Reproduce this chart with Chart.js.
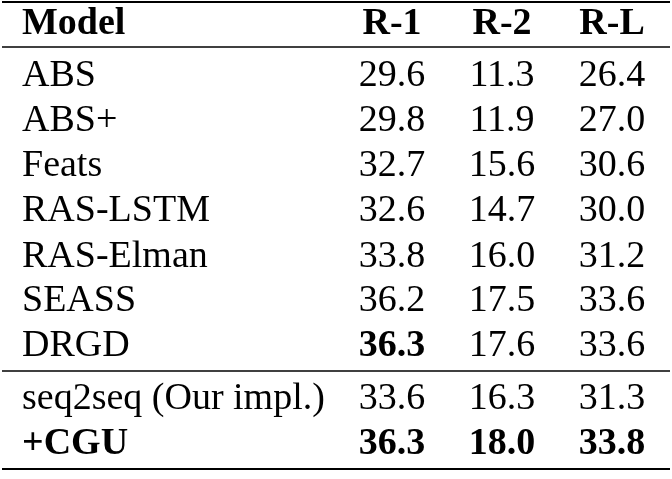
<!DOCTYPE html>
<html><head><meta charset="utf-8">
<script src="https://cdn.jsdelivr.net/npm/chart.js@4"></script>
<style>html,body{margin:0;padding:0;background:#fff}#w{width:672px;height:479px}</style>
</head><body><div id="w"><canvas id="c"></canvas></div>
<script>
const headers = ["Model","R-1","R-2","R-L"];
const models = ["ABS","ABS+","Feats","RAS-LSTM","RAS-Elman","SEASS","DRGD","seq2seq (Our impl.)","+CGU"];
const r1 = ["29.6","29.8","32.7","32.6","33.8","36.2","36.3","33.6","36.3"];
const r2 = ["11.3","11.9","15.6","14.7","16.0","17.5","17.6","16.3","18.0"];
const rl = ["26.4","27.0","30.6","30.0","31.2","33.6","33.6","31.3","33.8"];
const boldCells = [[6,1],[8,0],[8,1],[8,2],[8,3]];
const rowY = [24,76,121,166,211,257,301,346,399,444];
const colX = [22,392,502,612];
const rules = [[2,2.2],[47,1.3],[371,1.3],[469,2.2]];

const tablePlugin = {
  id:'table',
  afterDraw(chart){
    const ctx = chart.ctx, xs = chart.scales.x, ys = chart.scales.y;
    ctx.save();
    ctx.fillStyle='#000'; ctx.strokeStyle='#000';
    rules.forEach(([y,w])=>{ctx.lineWidth=w;ctx.beginPath();
      ctx.moveTo(xs.getPixelForValue(2),ys.getPixelForValue(y));
      ctx.lineTo(xs.getPixelForValue(670),ys.getPixelForValue(y));ctx.stroke();});
    ctx.textBaseline='middle';
    const draw=(t,c,r,bold)=>{
      ctx.font=(bold?'bold ':'')+'38px "Liberation Serif", serif';
      ctx.textAlign=c===0?'left':'center';
      ctx.fillText(t,xs.getPixelForValue(colX[c]),ys.getPixelForValue(rowY[r]));
    };
    headers.forEach((h,c)=>draw(h,c,0,true));
    models.forEach((m,i)=>{
      const vals=[m,r1[i],r2[i],rl[i]];
      vals.forEach((v,c)=>draw(v,c,i+1,boldCells.some(b=>b[0]===i&&b[1]===c)));
    });
    ctx.restore();
  }
};
new Chart(document.getElementById('c'),{
  type:'scatter',
  data:{datasets:[{data:[],pointRadius:0}]},
  options:{responsive:true,maintainAspectRatio:false,animation:false,
    layout:{padding:0},
    plugins:{legend:{display:false},tooltip:{enabled:false}},
    scales:{x:{type:'linear',min:0,max:672,display:false},
            y:{type:'linear',min:0,max:479,reverse:true,display:false}}},
  plugins:[tablePlugin]
});
</script></body></html>
